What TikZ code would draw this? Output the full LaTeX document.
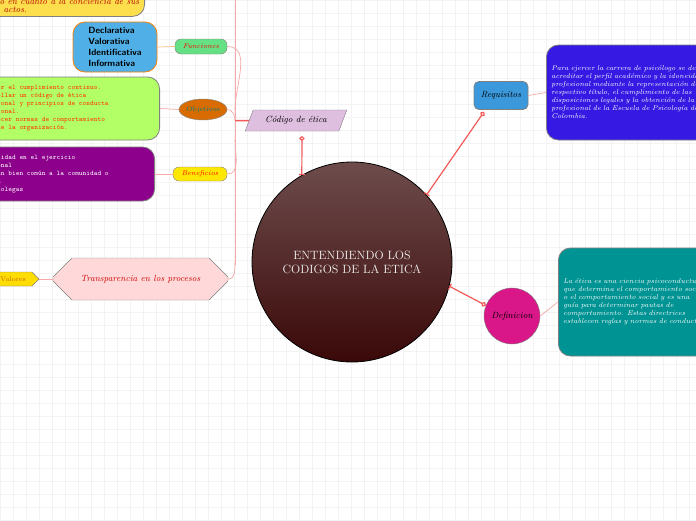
\documentclass[tikz,border=0pt]{standalone}
\usetikzlibrary{shapes.geometric,shapes.misc,shapes.symbols,arrows.meta}
\definecolor{grid}{HTML}{F3F3F3}
\definecolor{pinkl}{HTML}{F7A8A8}
\definecolor{redc}{HTML}{F25A5A}
\definecolor{ctop}{HTML}{6E4C4C}
\definecolor{cbot}{HTML}{3A0808}
\tikzset{
 box/.style={draw=#1,rounded corners=12pt,line width=0.8pt,inner sep=6pt},
 pill/.style={draw=gray,rounded corners=6pt,inner sep=2pt,font=\scriptsize\itshape},
 link/.style={draw=pinkl,line width=0.7pt},
 redlink/.style={draw=redc,line width=1.2pt,{Circle[open,length=5pt]}-{Bar[width=6pt]}},
 mono/.style={align=left,inner sep=0pt,anchor=west,font=\ttfamily\scriptsize},
}
\begin{document}
\begin{tikzpicture}[x=1pt,y=-1pt]
\useasboundingbox (0,0) rectangle (696,520);
\clip (0,0) rectangle (696,520);
\fill[white] (0,0) rectangle (696,520);
\draw[grid,step=13pt] (0,0) grid (696,520);
% spine
\draw[link] (235,0) -- (235,265);
% yellow top box
\node[box=gray,fill=yellow!70!orange!70,minimum width=340pt,minimum height=46pt,anchor=north east] (yel) at (145,-30) {};
\node[font=\small\itshape,text=red!70!black,anchor=west] (ytx) at (-4,1) {o en cuanto a la conciencia de sus};
\node[font=\small\itshape,text=red!70!black,anchor=west] (ytx2) at (0,10) {actos.};
% functions
\node[box=orange,fill=cyan!80!blue!70,font=\sffamily\bfseries\small,align=left,minimum width=84pt,minimum height=50pt,inner sep=3pt] (fb) at (115,47) {Declarativa\\Valorativa\\Identificativa\\Informativa};
\node[pill,fill=green!60!teal!60,text=red,minimum width=52pt,minimum height=15pt] (fun) at (201,46.5) {Funciones};
\draw[link,draw=orange!50] (fb.east) -- (fun.west);
\draw[link] (fun.east) to[out=0,in=90] (235,110);
% objectives
\node[box=gray,fill=green!50!yellow!60,minimum width=360pt,minimum height=63pt,anchor=east] (ob) at (160,108.5) {};
\node[mono,text=red!60!orange] (obt) at (-3,108) {er el cumplimiento continuo.\\ollar un c\'odigo de \'etica\\ional y principios de conducta\\ional.\\ecer normas de comportamiento\\ de la organizaci\'on.};
\node[ellipse,draw=gray,fill=orange!85!black,text=teal,font=\scriptsize,minimum width=48pt,minimum height=21pt,inner sep=0pt] (obj) at (203,109.5) {Objetivos};
\draw[link] (ob.east) -- (obj.west);
\draw[link] (obj.east) to[out=0,in=90] (235,120);
% benefits
\node[box=gray,fill=violet!90!magenta,minimum width=355pt,minimum height=54pt,anchor=east] (be) at (155,174) {};
\node[mono,text=white] (bet) at (-3,174) {lidad en el ejercicio\\onal\\un bien com\'un a la comunidad o\\d\\ colegas};
\node[pill,fill=yellow!90!orange,text=red,minimum width=54pt,minimum height=14pt] (ben) at (200,174) {Beneficios};
\draw[link] (be.east) -- (ben.west);
\draw[link] (ben.east) to[out=0,in=-90] (235,140);
% codigo
\node[trapezium,trapezium left angle=60,trapezium right angle=120,trapezium stretches=true,draw=gray,fill=violet!25,font=\small\itshape,minimum width=102pt,minimum height=21pt,inner sep=1pt] (cod) at (296,120.5) {C\'odigo de \'etica};
\draw[draw=redc,line width=1.5pt] (235,120.5) -- (cod.west);
% transparencia
\node[chamfered rectangle,chamfered rectangle xsep=4pt,chamfered rectangle ysep=15pt,draw=gray,fill=red!15,text=red!80!black,font=\small\itshape,minimum width=175pt,minimum height=32pt,inner sep=2pt] (tr) at (140.5,279) {Transparencia en los procesos};
\draw[link] (tr.east) to[out=0,in=-90] (235,262);
\node[signal,signal to=east,draw=gray,fill=yellow!80!orange,text=orange!80!black,font=\scriptsize,minimum width=45pt,minimum height=14pt,inner sep=1pt] (val) at (13,279) {Valores};
\draw[link] (val.east) -- (tr.west);
% central
\shade[top color=ctop,bottom color=cbot] (352,262) circle (100pt);
\node[circle,draw=black,line width=0.8pt,minimum size=200pt,text=white!90!gray,align=center,font=\large] (c) at (352,262) {ENTENDIENDO LOS\\CODIGOS DE LA ETICA};
\draw[redlink] (302,136) -- (c.120);
% requisitos
\node[box=gray,rounded corners=5pt,fill=cyan!70!blue!80,font=\small\itshape,minimum width=54pt,minimum height=28pt,inner sep=1pt] (req) at (501,95.5) {Requisitos};
\node[box=gray,fill=blue!75!violet!90,text=white,font=\scriptsize\itshape,align=left,text width=170pt,minimum height=95pt,anchor=west,inner sep=5pt] (rb) at (546,92.5) {Para ejercer la carrera de psic\'ologo se debe\\acreditar el perfil acad\'emico y la idoneidad\\profesional mediante la representaci\'on del\\respectivo t\'itulo, el cumplimiento de las\\disposiciones legales y la obtenci\'on de la tarjeta\\profesional de la Escuela de Psicolog\'ia de\\Colombia.};
\draw[link] (req.east) -- (rb.west);
\draw[redlink] (req.south) ++(-17,2) coordinate (rq) (rq) -- (c.42);
% definicion
\node[circle,draw=gray,fill=magenta!80!violet,font=\small\itshape,minimum size=56pt,inner sep=0pt] (def) at (512,316) {Definicion};
\node[box=gray,fill=teal!85!cyan,text=white,font=\scriptsize\itshape,align=left,text width=170pt,minimum height=108pt,anchor=west,inner sep=5pt] (db) at (558,302) {La \'etica es una ciencia psicoconductual\\que determina el comportamiento social\\o el comportamiento social y es una\\gu\'ia para determinar pautas de\\comportamiento. Estas directrices\\establecen reglas y normas de conducta.};
\draw[link] (def.east) -- (db.west);
\draw[redlink] (def.158) -- (c.-14);
\end{tikzpicture}
\end{document}
